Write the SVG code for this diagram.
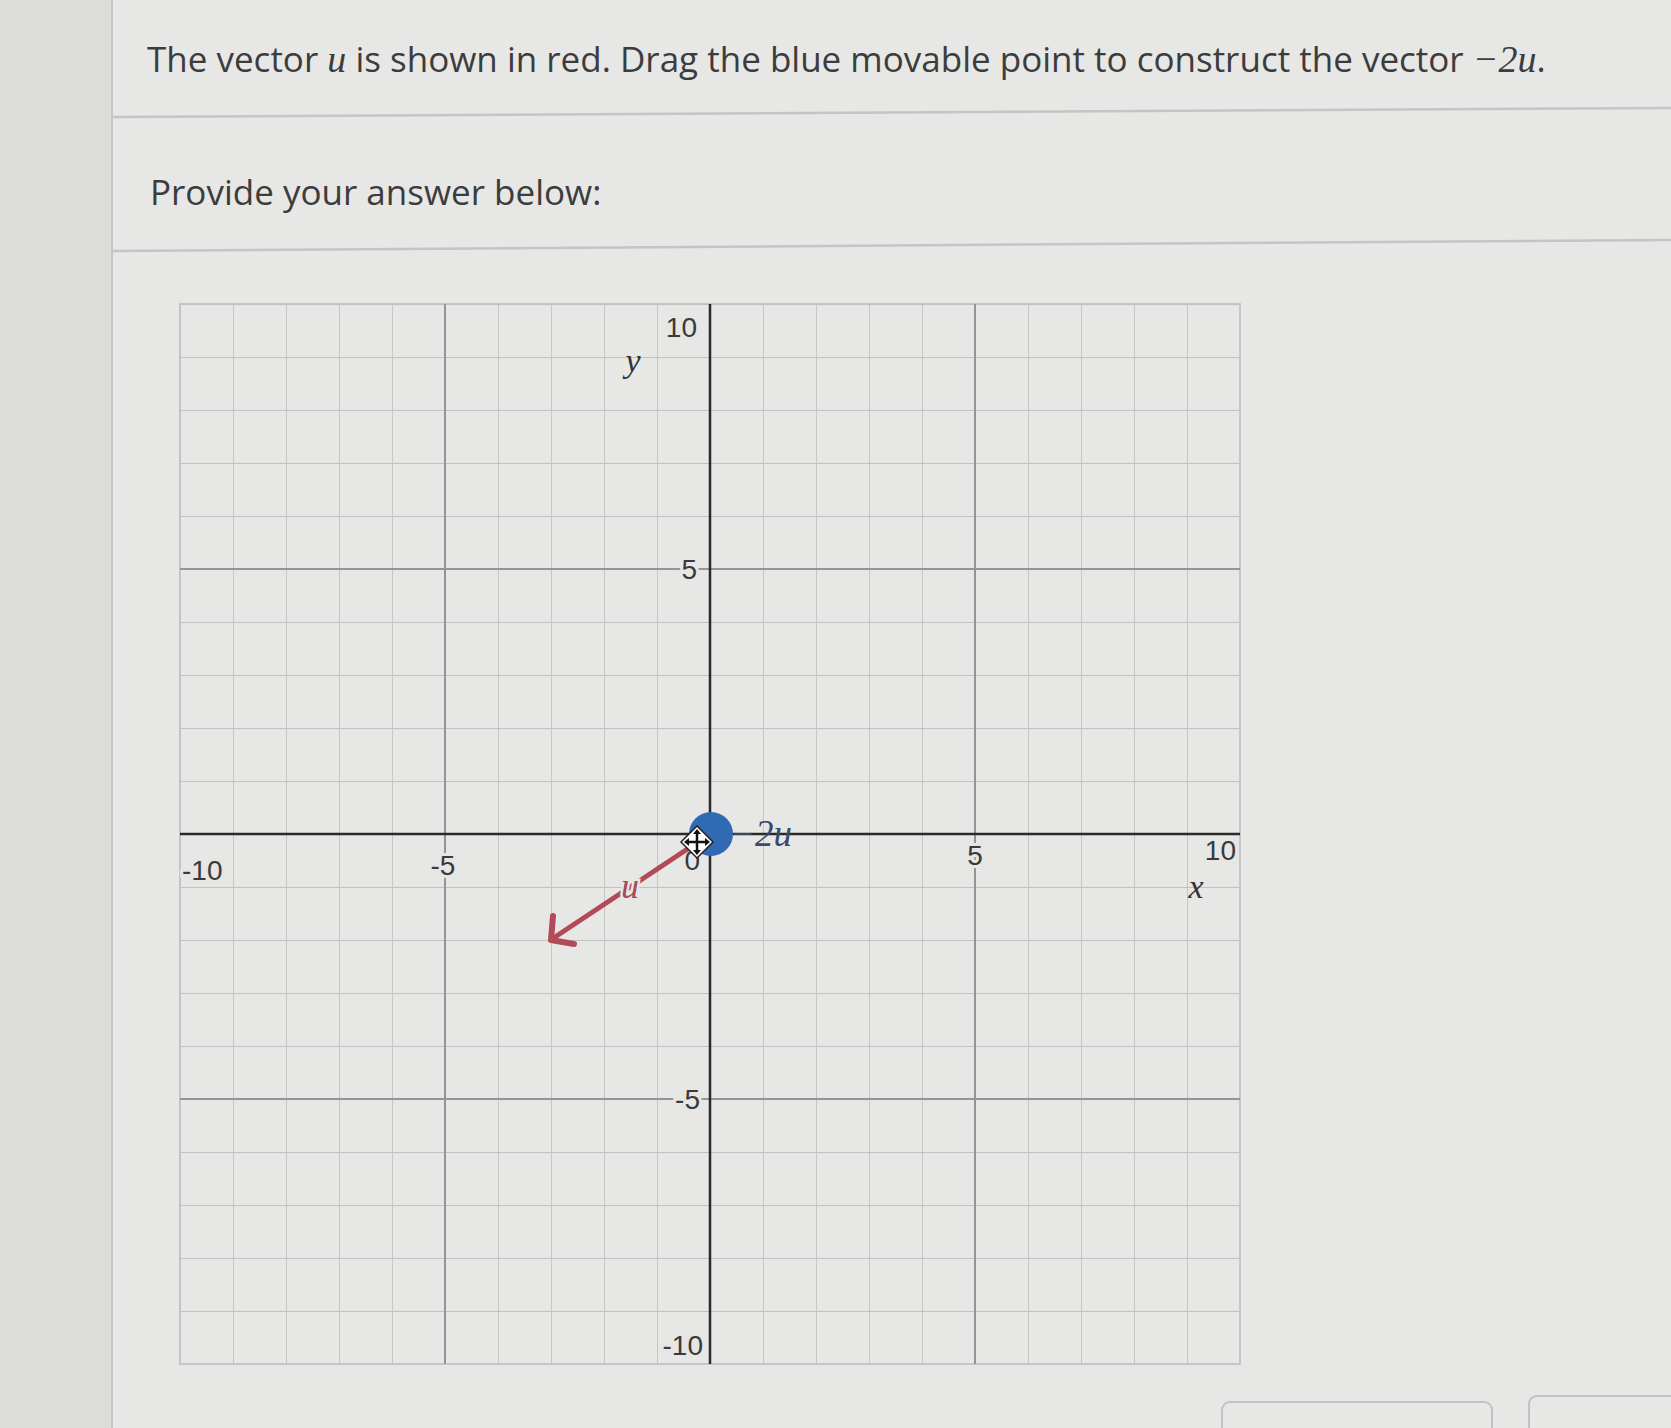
<svg xmlns="http://www.w3.org/2000/svg" width="1671" height="1428" viewBox="0 0 1671 1428">
<style>
.minor{stroke:#c2c2c2;stroke-width:1.8;fill:none}
.major{stroke:#959595;stroke-width:2;fill:none}
.axis{stroke:#2a2a2e;stroke-width:2.5;fill:none}
.tick{font-family:"Liberation Sans",Arial,sans-serif;font-size:28px;fill:#3a3a3a;paint-order:stroke;stroke:#e6e6e4;stroke-width:6px}
.math{font-family:"Liberation Serif","DejaVu Serif",serif;font-style:italic}
.body{font-family:"Open Sans","Noto Sans",sans-serif;font-size:35px;fill:#3c3c3c}
.sep{stroke:#c4c4c4;stroke-width:2.5;fill:none}
</style>
<defs>
<pattern id="g" x="180" y="304" width="53" height="53" patternUnits="userSpaceOnUse">
<path d="M0 0V53M0 0H53" class="minor"/>
</pattern>
</defs>
<rect width="1671" height="1428" fill="#e7e7e5"/>
<rect width="112" height="1428" fill="#dcdcdb"/>
<path d="M112 0V1428" stroke="#c6c6c6" stroke-width="2"/>
<path class="sep" d="M112 117L1671 108"/>
<path class="sep" d="M112 251L1671 240"/>
<g id="header">
<text class="body" x="147" y="72">The vector <tspan class="math" font-size="38">u</tspan> is shown in red. Drag the blue movable point to construct the vector <tspan class="math" font-size="38">−2u</tspan>.</text>
<text class="body" x="150" y="205">Provide your answer below:</text>
</g>
<g id="grid">
<rect x="180" y="304" width="1060" height="1060" fill="url(#g)"/>
<rect x="180" y="304" width="1060" height="1060" class="minor"/>
<path class="major" d="M445 304V1364M975 304V1364M180 569H1240M180 1099H1240"/>
<path class="axis" d="M710 304V1364M180 834H1240"/>
</g>
<g id="labels">
<text class="tick" x="697" y="337" text-anchor="end">10</text>
<text class="tick" x="697" y="579" text-anchor="end">5</text>
<text class="tick" x="700" y="1109" text-anchor="end">-5</text>
<text class="tick" x="703" y="1355" text-anchor="end">-10</text>
<text class="tick" x="182" y="880">-10</text>
<text class="tick" x="443" y="875" text-anchor="middle">-5</text>
<text class="tick" x="975" y="865" text-anchor="middle">5</text>
<text class="tick" x="1236" y="860" text-anchor="end">10</text>
<text class="tick" x="700" y="870" text-anchor="end">0</text>
<text class="math" x="1196" y="898" font-size="34" fill="#333" text-anchor="middle">x</text>
<text class="math" x="633" y="372" font-size="34" fill="#333" text-anchor="middle">y</text>
</g>
<g id="connectors">
<g id="vector-u">
<path d="M704 838L555 937" stroke="#b24a58" stroke-width="5" stroke-linecap="round" fill="none"/>
<path d="M553 916L551 940L574 944" stroke="#b24a58" stroke-width="6" stroke-linecap="round" stroke-linejoin="round" fill="none"/>
<text class="math" x="630" y="898" font-size="36" fill="#a84a58" text-anchor="middle" style="paint-order:stroke;stroke:#e6e6e4;stroke-width:5px">u</text>
</g>
</g>
<g id="point">
<circle cx="711" cy="834" r="22" fill="#2f6ab3"/>
<text class="math" x="730" y="846" font-size="37" fill="#3b4a68">−2u</text>
</g>
<g id="cursor">
<path d="M697 826L713 842L697 858L681 842Z" fill="#fff" stroke="#222" stroke-width="1.5"/>
<path d="M697 832V852M687 842H707" stroke="#111" stroke-width="2.5"/>
<path d="M697 829L693 834H701ZM697 855L693 850H701ZM684 842L689 838V846ZM710 842L705 838V846Z" fill="#111"/>
</g>
<g id="buttons">
<rect x="1222" y="1402" width="270" height="60" rx="8" fill="none" stroke="#c2c2c2" stroke-width="2"/>
<rect x="1529" y="1396" width="180" height="60" rx="8" fill="none" stroke="#c2c2c2" stroke-width="2"/>
</g>
</svg>
